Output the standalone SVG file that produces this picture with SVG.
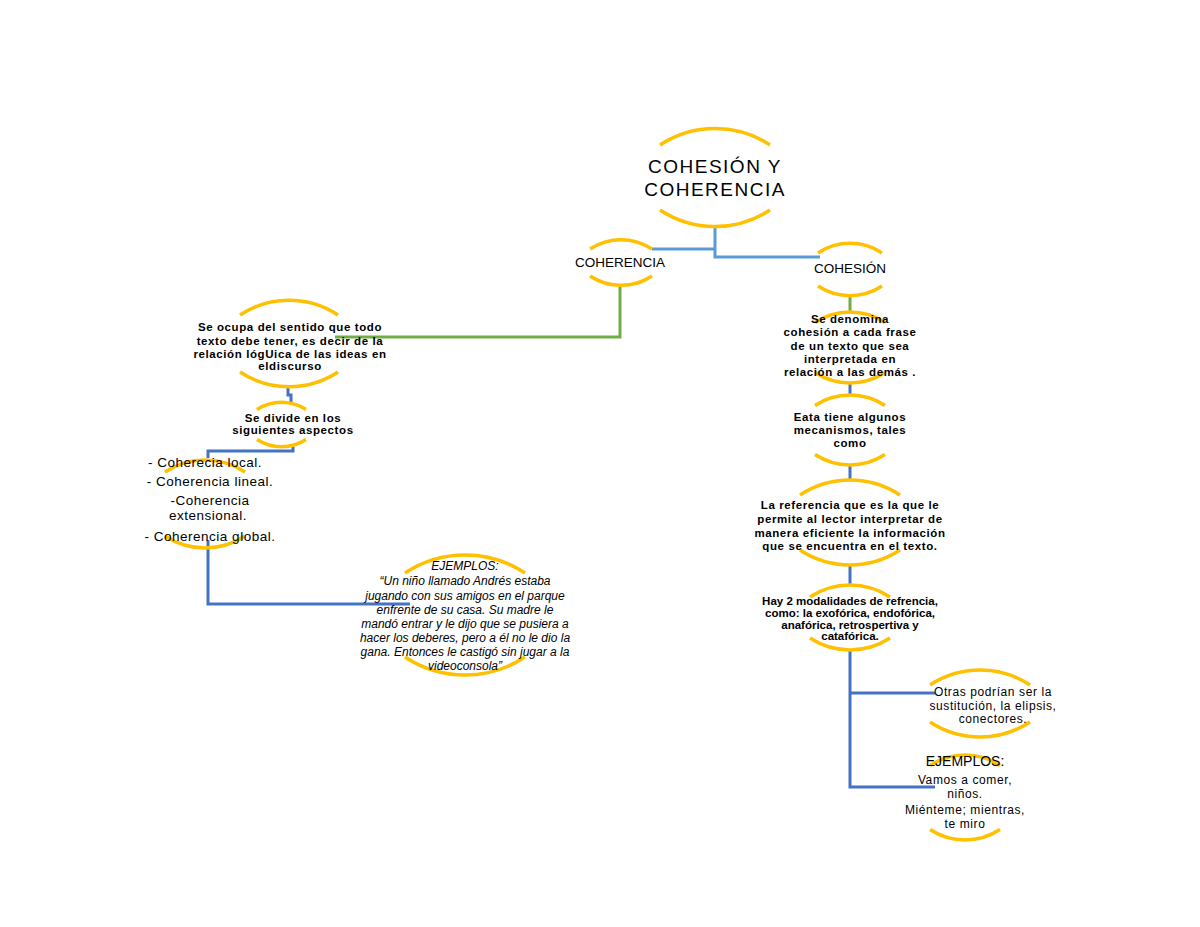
<svg xmlns="http://www.w3.org/2000/svg" width="1200" height="927" viewBox="0 0 1200 927">
<style>
.arc{fill:none;stroke:#ffc000;stroke-width:3.5}
.cb{fill:none;stroke:#4472c4;stroke-width:3}
.cl{fill:none;stroke:#5b9bd5;stroke-width:3}
.cg{fill:none;stroke:#70ad47;stroke-width:3}
text{font-family:"Liberation Sans",Arial,sans-serif;fill:#000;text-anchor:middle}
.b{font-size:11.5px;font-weight:bold;letter-spacing:0.6px}
.n{font-size:13.5px;letter-spacing:0.5px}
.i{font-size:12px;font-style:italic}
</style>
<rect width="1200" height="927" fill="#fff"/>
<g id="connectors">
<path class="cl" d="M652,249 H715 V226 M715,226 V257 H820"/>
<path class="cg" d="M620,286 V337 H335"/>
<path class="cb" d="M288,387 V395 H291 V402"/>
<path class="cb" d="M293,447 V451 H208 V458"/>
<path class="cb" d="M208,540 V604 H410"/>
<path class="cg" d="M850,296 V312"/>
<path class="cb" d="M850,383 V395 M850,465 V480 M850,565 V585 M850,650 V787 H935 M850,693 H935"/>
</g>
<g id="title">
<path class="arc" d="M660,145 A100,100 0 0 1 770,145 M660,210 A100,100 0 0 0 770,210"/>
<text x="715" y="173" style="font-size:19px;letter-spacing:1.5px">COHESIÓN Y</text>
<text x="715" y="196" style="font-size:19px;letter-spacing:1.5px">COHERENCIA</text>
</g>
<g id="coherencia">
<path class="arc" d="M590,249 A56,56 0 0 1 652,249 M590,276 A56,56 0 0 0 652,276"/>
<text x="620" y="267" style="font-size:13.5px">COHERENCIA</text>
</g>
<g id="cohesion">
<path class="arc" d="M818,253 A58,58 0 0 1 882,253 M818,286 A58,58 0 0 0 882,286"/>
<text x="850" y="273" style="font-size:13.5px">COHESIÓN</text>
</g>
<g id="se-ocupa">
<path class="arc" d="M240,315 A89,89 0 0 1 338,315 M240,372 A89,89 0 0 0 338,372"/>
<text class="b" x="290" y="331">Se ocupa del sentido que todo</text>
<text class="b" x="290" y="345">texto debe tener, es decir de la</text>
<text class="b" x="290" y="358">relación lógUica de las ideas en</text>
<text class="b" x="290" y="370">eldiscurso</text>
</g>
<g id="se-divide">
<path class="arc" d="M257,409.5 A45,45 0 0 1 306,409.5 M257,439.5 A45,45 0 0 0 306,439.5"/>
<text class="b" x="293" y="422">Se divide en los</text>
<text class="b" x="293" y="434">siguientes aspectos</text>
</g>
<g id="aspectos">
<path class="arc" d="M165,472 A73,73 0 0 1 245,472 M165,536 A73,73 0 0 0 245,536"/>
<text class="n" x="205" y="467">- Coherecia local.</text>
<text class="n" x="210" y="486">- Coherencia lineal.</text>
<text class="n" x="210" y="505">-Coherencia</text>
<text class="n" x="208" y="520">extensional.</text>
<text class="n" x="210" y="541">- Coherencia global.</text>
</g>
<g id="ejemplos-izq">
<path class="arc" d="M405,573 A109,109 0 0 1 525,573 M405,657 A109,109 0 0 0 525,657"/>
<text class="i" x="465" y="570">EJEMPLOS:</text>
<text class="i" x="465" y="585">“Un niño llamado Andrés estaba</text>
<text class="i" x="465" y="600">jugando con sus amigos en el parque</text>
<text class="i" x="465" y="614">enfrente de su casa. Su madre le</text>
<text class="i" x="465" y="628">mandó entrar y le dijo que se pusiera a</text>
<text class="i" x="465" y="642">hacer los deberes, pero a él no le dio la</text>
<text class="i" x="465" y="656">gana. Entonces le castigó sin jugar a la</text>
<text class="i" x="465" y="670">videoconsola”</text>
</g>
<g id="se-denomina">
<path class="arc" d="M815,322.5 A64,64 0 0 1 885,322.5 M815,372.5 A64,64 0 0 0 885,372.5"/>
<text class="b" x="850" y="323">Se denomina</text>
<text class="b" x="850" y="336">cohesión a cada frase</text>
<text class="b" x="850" y="350">de un texto que sea</text>
<text class="b" x="850" y="363">interpretada en</text>
<text class="b" x="850" y="376">relación a las demás .</text>
</g>
<g id="eata">
<path class="arc" d="M815,405.5 A64,64 0 0 1 885,405.5 M815,454.5 A64,64 0 0 0 885,454.5"/>
<text class="b" x="850" y="421">Eata tiene algunos</text>
<text class="b" x="850" y="434">mecanismos, tales</text>
<text class="b" x="850" y="447">como</text>
</g>
<g id="referencia">
<path class="arc" d="M800,495 A91,91 0 0 1 900,495 M800,550 A91,91 0 0 0 900,550"/>
<text class="b" x="850" y="509">La referencia que es la que le</text>
<text class="b" x="850" y="523">permite al lector interpretar de</text>
<text class="b" x="850" y="537">manera eficiente  la información</text>
<text class="b" x="850" y="550">que se encuentra en el texto.</text>
</g>
<g id="modalidades">
<path class="arc" d="M810,597 A73,73 0 0 1 890,597 M810,638 A73,73 0 0 0 890,638"/>
<text class="b" x="850" y="605" style="letter-spacing:0">Hay 2 modalidades de refrencia,</text>
<text class="b" x="850" y="617" style="letter-spacing:0">como: la exofórica, endofórica,</text>
<text class="b" x="850" y="629" style="letter-spacing:0">anafórica, retrospertiva y</text>
<text class="b" x="850" y="640" style="letter-spacing:0">catafórica.</text>
</g>
<g id="otras">
<path class="arc" d="M930,685 A91,91 0 0 1 1030,685 M930,722 A91,91 0 0 0 1030,722"/>
<text class="b" x="993" y="696" style="font-weight:normal;font-size:12px">Otras podrían ser la</text>
<text class="b" x="993" y="710" style="font-weight:normal;font-size:12px">sustitución, la elipsis,</text>
<text class="b" x="993" y="723" style="font-weight:normal;font-size:12px">conectores.</text>
</g>
<g id="ejemplos-der">
<path class="arc" d="M930,765.5 A64,64 0 0 1 1000,765.5 M930,829.5 A64,64 0 0 0 1000,829.5"/>
<text x="965" y="766" style="font-size:14px">EJEMPLOS:</text>
<text class="b" x="965" y="784" style="font-weight:normal;font-size:12px">Vamos a comer,</text>
<text class="b" x="965" y="798" style="font-weight:normal;font-size:12px">niños.</text>
<text class="b" x="965" y="814" style="font-weight:normal;font-size:12px">Miénteme; mientras,</text>
<text class="b" x="965" y="828" style="font-weight:normal;font-size:12px">te miro</text>
</g>
</svg>
